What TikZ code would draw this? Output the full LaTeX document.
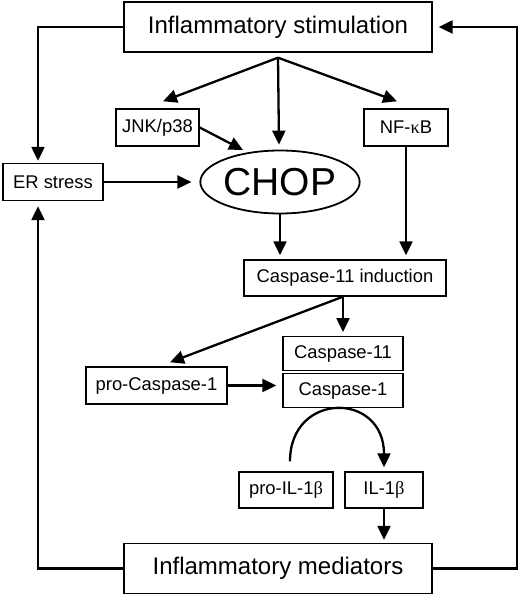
\documentclass[tikz,border=0pt]{standalone}
\usepackage{fontspec}
\setmainfont{Liberation Sans}
\newfontfamily\grk{Liberation Serif}
\usetikzlibrary{arrows.meta,shapes.geometric}
\begin{document}
\begin{tikzpicture}[x=1pt,y=1pt,
  box/.style={draw,line width=1.4pt,inner sep=0pt,minimum width=#1},
  small/.style={box=#1,minimum height=37pt,font=\fontsize{18.4}{22}\selectfont},
  big/.style={box=308pt,minimum height=50pt,font=\fontsize{24}{28}\selectfont},
  arr/.style={line width=2.3pt,-{Triangle[length=14pt,width=13pt]}}]
\useasboundingbox (0,0) rectangle (520,597);
% boxes
\node [big] (stim) at (278,570) {Inflammatory stimulation};
\node [small=83pt] (jnk) at (157.5,469.5) {JNK/p38};
\node [small=84pt] (nfkb) at (406,469.5) {NF-{\grk κ}B};
\node [small=100pt] (er) at (53,415) {ER stress};
\node [ellipse,draw,line width=1.8pt,inner sep=0pt,minimum width=144pt,minimum height=63pt,
  font=\fontsize{39}{44}\selectfont] (chop) at (280,415) {CHOP};
\node [small=202pt,minimum height=36pt] (ind) at (345,319) {Caspase-11 induction};
\node [small=120pt,minimum height=33.5pt] (casp11) at (343,243.5) {Caspase-11};
\node [small=120pt,minimum height=33.5pt] (casp1) at (343,206.5) {Caspase-1};
\node [small=141pt] (procasp) at (156.5,211.5) {pro-Caspase-1};
\node [small=94pt,minimum height=36pt] (proil) at (286,107) {pro-IL-1{\grk β}};
\node [small=78pt,minimum height=36pt] (il) at (384,107) {IL-1{\grk β}};
\node [big] (med) at (278,28.5) {Inflammatory mediators};
% arrows from the stimulation
\coordinate (fan) at ([yshift=-5pt]stim.south);
\foreach \n/\dx/\dy in {jnk/5.5/7,chop/-1/5,nfkb/-9/7}
	\draw [arr] (fan) -- ([xshift=\dx pt,yshift=\dy pt]\n.north);
\draw [arr] (jnk.east) -- ([xshift=-37pt,yshift=32pt]chop.center);
\draw [arr,shorten >=8pt] (er) -- (chop);
\draw [arr,shorten >=4pt] (chop.south) -- (chop.south |- ind.north);
\draw [arr,shorten >=4pt] (nfkb.south) -- (nfkb.south |- ind.north);
% feedback loops
\draw [arr,shorten >=2pt] (stim.west) -| ([xshift=-15pt]er.north);
\draw [arr,shorten >=5pt] (med.west) -| ([xshift=-15pt]er.south);
\draw [arr,shorten >=6pt] (med.east) -- ++(84,0) |- (stim.east);
% caspase cascade
\draw [arr,shorten >=4pt] ([xshift=-2pt]ind.south) -- ([xshift=-2pt]ind.south |- casp11.north);
\draw [arr] ([xshift=-2pt]ind.south) -- ([xshift=13.5pt,yshift=4pt]procasp.north);
\draw [arr,shorten >=6pt] (procasp.east) -- (procasp.east -| casp1.west);
\coordinate (cleave) at ([xshift=4pt,yshift=10pt]proil.north);
\draw [arr] (cleave) .. controls +(0,70) and +(0,76) .. ([yshift=4pt]il.north);
\draw [arr,shorten >=3pt] (il.south) -- (il.south |- med.north);
\end{tikzpicture}
\end{document}
